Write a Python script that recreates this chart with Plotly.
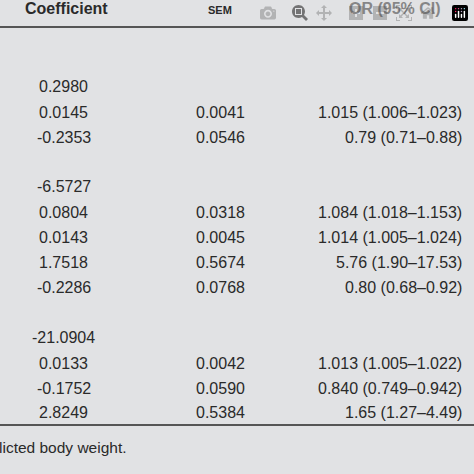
import plotly.graph_objects as go

coef = ["0.2980", "0.0145", "-0.2353",
        "-6.5727", "0.0804", "0.0143", "1.7518", "-0.2286",
        "-21.0904", "0.0133", "-0.1752", "2.8249"]
sem = ["", "0.0041", "0.0546",
       "", "0.0318", "0.0045", "0.5674", "0.0768",
       "", "0.0042", "0.0590", "0.5384"]
odds = ["", "1.015 (1.006–1.023)", "0.79 (0.71–0.88)",
        "", "1.084 (1.018–1.153)", "1.014 (1.005–1.024)", "5.76 (1.90–17.53)", "0.80 (0.68–0.92)",
        "", "1.013 (1.005–1.022)", "0.840 (0.749–0.942)", "1.65 (1.27–4.49)"]
row_y = [87, 112, 137, 187, 212, 237, 262, 287, 337, 363, 388, 412]

W = H = 474
GRAY = "#e1e2e4"
TXT = "#2a2a2a"
FONT = "Liberation Sans, Arial, sans-serif"


def py(y):
    return 1 - y / H


fig = go.Figure()
ann = []


def text(x, y, s, anchor, size=16, bold=False):
    ann.append(dict(x=x / W, y=py(y), xref="paper", yref="paper", text=f"<b>{s}</b>" if bold else s,
                    showarrow=False, xanchor=anchor, yanchor="middle",
                    font=dict(family=FONT, size=size, color=TXT)))


text(23, 8, "Coefficient", "left", 16, True)
text(220, 10, "SEM", "center", 11, True)
text(443, 8, "OR (95% CI)", "right", 16, True)

for c, s, o, y in zip(coef, sem, odds, row_y):
    text(64, y, c, "center")
    if s:
        text(220, y, s, "center")
    if o:
        text(464, y, o, "right")

text(-3, 447, "licted body weight.", "left", 15.5)

shapes = [dict(type="line", xref="paper", yref="paper", x0=0, x1=1, y0=py(y), y1=py(y),
               line=dict(color="#555555", width=2)) for y in (27, 425)]

fig.update_layout(width=W, height=H, margin=dict(l=0, r=0, t=0, b=0),
                  paper_bgcolor=GRAY, plot_bgcolor=GRAY,
                  xaxis=dict(visible=False), yaxis=dict(visible=False),
                  annotations=ann, shapes=shapes, showlegend=False)
fig.write_html("out.html", post_script="document.body.style.margin='0';"
                                       "document.body.style.overflow='hidden';")
